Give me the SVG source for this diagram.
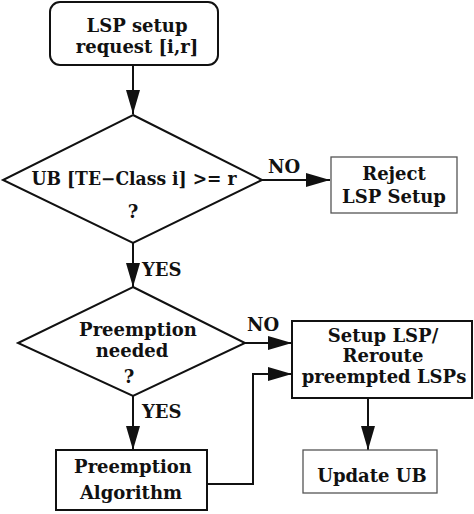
<svg xmlns="http://www.w3.org/2000/svg" width="474" height="514" viewBox="0 0 474 514">
<style>
text{font-family:"DejaVu Serif","Liberation Serif",serif;font-weight:bold;font-size:18px;fill:#111;text-anchor:middle}
.lbl{text-anchor:start}
.box{fill:#fff;stroke:#111;stroke-width:2}
.thin{fill:#fff;stroke:#555;stroke-width:1.3}
.c{fill:none;stroke:#111;stroke-width:2}
</style>
<defs>
<marker id="ah" viewBox="0 0 24 14" refX="24" refY="7" markerWidth="24" markerHeight="14" markerUnits="userSpaceOnUse" orient="auto">
<path d="M0,0 L24,7 L0,14 Z" fill="#111"/>
</marker>
</defs>
<g id="connectors">
<path class="c" d="M133,65 V114" marker-end="url(#ah)"/>
<path class="c" d="M262,180 H330" marker-end="url(#ah)"/>
<path class="c" d="M133,243 V287" marker-end="url(#ah)"/>
<path class="c" d="M245,343 H292" marker-end="url(#ah)"/>
<path class="c" d="M133,396 V450" marker-end="url(#ah)"/>
<path class="c" d="M207,484 H253 V374 H292" marker-end="url(#ah)"/>
<path class="c" d="M368,398 V450" marker-end="url(#ah)"/>
<text class="lbl" x="268" y="173">NO</text>
<text class="lbl" x="142" y="276">YES</text>
<text class="lbl" x="247" y="331">NO</text>
<text class="lbl" x="142" y="418">YES</text>
</g>
<g id="start">
<rect class="box" x="50" y="2" width="168" height="63" rx="10"/>
<text x="137" y="32">LSP setup</text>
<text x="137" y="53">request [i,r]</text>
</g>
<g id="decision1">
<path class="box" d="M133,115 L262,180 L133,243 L3,180 Z"/>
<text x="134" y="185" textLength="205" lengthAdjust="spacingAndGlyphs">UB [TE−Class i] &gt;= r</text>
<text x="133" y="218">?</text>
</g>
<g id="reject">
<rect class="thin" x="331" y="157" width="126" height="56"/>
<text x="394" y="180">Reject</text>
<text x="394" y="203">LSP Setup</text>
</g>
<g id="decision2">
<path class="box" d="M133,287 L245,343 L133,396 L18,343 Z"/>
<text x="138" y="336">Preemption</text>
<text x="132" y="357">needed</text>
<text x="129" y="383">?</text>
</g>
<g id="setup">
<rect class="box" x="292" y="321" width="180" height="77"/>
<text x="383" y="342">Setup LSP/</text>
<text x="383" y="362">Reroute</text>
<text x="384" y="383">preempted LSPs</text>
</g>
<g id="algorithm">
<rect class="box" x="56" y="450" width="151" height="60"/>
<text x="133" y="473">Preemption</text>
<text x="131" y="499">Algorithm</text>
</g>
<g id="update">
<rect class="thin" x="303" y="450" width="134" height="43"/>
<text x="372" y="482">Update UB</text>
</g>
</svg>
